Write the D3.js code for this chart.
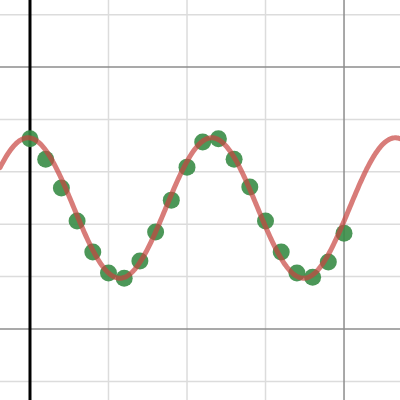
<!DOCTYPE html>
<html><head><meta charset="utf-8">
<script src="https://cdn.jsdelivr.net/npm/d3@7"></script>
<style>body{margin:0}svg{display:block}</style></head>
<body><svg id="c" width="400" height="400"></svg>
<script>
const xDomain = [-0.382, 4.713];
const yDomain = [3.645, 11.28];
const minorX = [1, 2, 3];
const majorX = [4];
const minorY = [4, 6, 7, 8, 9, 11];
const majorY = [5, 10];
const pointX = [0,0.2,0.4,0.6,0.8,1.0,1.2,1.4,1.6,1.8,2.0,2.2,2.4,2.6,2.8,3.0,3.2,3.4,3.6,3.8,4.0];
const pointY = [8.63,8.24,7.69,7.06,6.47,6.07,5.97,6.30,6.85,7.46,8.09,8.57,8.63,8.24,7.71,7.06,6.47,6.07,5.99,6.28,6.83];
// fitted model: y = offset + amp*cos(2π(x-shift)/period)
const fitParams = {offset: 7.31, amp: 1.34, period: 2.34, shift: -0.025};

const svg = d3.select("#c");
const x = d3.scaleLinear().domain(xDomain).range([0, 400]);
const y = d3.scaleLinear().domain(yDomain).range([400, 0]);
svg.append("rect").attr("width",400).attr("height",400).attr("fill","#fff");
const g = svg.append("g");
g.selectAll(".mx").data(minorX).join("line").attr("x1",d=>x(d)).attr("x2",d=>x(d)).attr("y1",0).attr("y2",400).attr("stroke","#dcdcdc").attr("stroke-width",1.5);
g.selectAll(".my").data(minorY).join("line").attr("y1",d=>y(d)).attr("y2",d=>y(d)).attr("x1",0).attr("x2",400).attr("stroke","#dcdcdc").attr("stroke-width",1.5);
g.selectAll(".Mx").data(majorX).join("line").attr("x1",d=>x(d)).attr("x2",d=>x(d)).attr("y1",0).attr("y2",400).attr("stroke","#8c8c8c").attr("stroke-width",1.5);
g.selectAll(".My").data(majorY).join("line").attr("y1",d=>y(d)).attr("y2",d=>y(d)).attr("x1",0).attr("x2",400).attr("stroke","#8c8c8c").attr("stroke-width",1.5);
g.append("line").attr("x1",x(0)).attr("x2",x(0)).attr("y1",0).attr("y2",400).attr("stroke","#000").attr("stroke-width",3);

const xs = d3.range(0, 401).map(p => x.invert(p));
const f = t => fitParams.offset + fitParams.amp*Math.cos(2*Math.PI*(t-fitParams.shift)/fitParams.period);
svg.selectAll(".pt").data(pointX).join("circle")
  .attr("cx",d=>x(d)).attr("cy",(d,i)=>y(pointY[i])).attr("r",8.5)
  .attr("fill","#388c46").attr("fill-opacity",0.9);
svg.append("path").datum(xs).attr("d", d3.line().x(d=>x(d)).y(d=>y(f(d))))
  .attr("fill","none").attr("stroke","#c74440").attr("stroke-opacity",0.7).attr("stroke-width",5).attr("stroke-linecap","round");
</script></body></html>
